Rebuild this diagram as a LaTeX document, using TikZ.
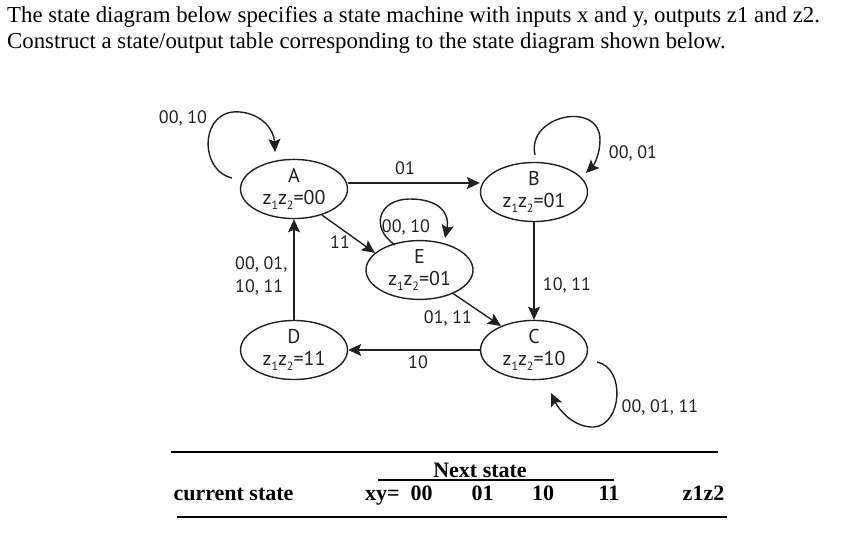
\documentclass[tikz,border=0pt]{standalone}
\usepackage{fontspec}
\setmainfont{Liberation Serif}
\newfontfamily\diagfont{PT Sans}
\usetikzlibrary{arrows.meta,shapes.geometric}
\newcommand\zsb[1]{\raisebox{-0.28em}{\fontsize{12}{12}\selectfont #1}}
\definecolor{ink}{HTML}{231F20}
\tikzset{
  state/.style={ellipse, draw=ink, line width=1.4pt, minimum width=107pt, minimum height=58pt,
    inner sep=0pt, align=center, font=\diagfont\fontsize{20}{22}\selectfont, text=ink},
  arr/.style={draw=ink, line width=1.4pt, -{Stealth[length=13pt,width=12pt,inset=2.5pt]}},
  lbl/.style={font=\diagfont\fontsize{18}{23}\selectfont, text=ink, inner sep=0pt},
  ttl/.style={font=\fontsize{22.8}{25}\selectfont, anchor=base west, inner sep=0pt},
  tbl/.style={font=\bfseries\fontsize{22}{25}\selectfont, anchor=base, inner sep=0pt},
}
\begin{document}
\begin{tikzpicture}[x=1pt,y=-1pt]
\useasboundingbox (0,0) rectangle (854,554);
% title
\node[ttl] (t1) at (7,23) {The state diagram below specifies a state machine with inputs x and y, outputs z1 and z2.};
\node[ttl] (t2) at (7,48) {Construct a state/output table corresponding to the state diagram shown below.};
% states
\node[state] (A) at (294,189) {A\\z\zsb{1}z\zsb{2}=00};
\node[state] (B) at (534,192) {B\\z\zsb{1}z\zsb{2}=01};
\node[state] (E) at (419.5,270) {E\\z\zsb{1}z\zsb{2}=01};
\node[state] (C) at (534,350) {C\\z\zsb{1}z\zsb{2}=10};
\node[state] (D) at (294,350) {D\\z\zsb{1}z\zsb{2}=11};
% transitions
\draw[arr] ([yshift=6pt]A.east) -- ([yshift=6pt]A.east -| B.west);
\draw[arr] (B.south) -- (C.north);
\draw[arr] (C.west) -- (D.east);
\draw[arr] (D.north) -- (A.south);
\draw[arr] (A.-43) -- (E.159);
\draw[arr] (E.-35) -- (C.144);
% self loops
\coordinate (as) at (232,178); \coordinate (at) at (275,152);
\draw[arr] (as) .. controls (198,170) and (200,108) .. (240,112) .. controls (262,114) and (274,130) .. (at);
\coordinate (bs) at (535,155); \coordinate (bt) at (586,173);
\draw[arr] (bs) .. controls (526,115) and (600,100) .. (600,140) .. controls (600,154) and (594,165) .. (bt);
\coordinate (cs) at (597,362); \coordinate (ct) at (551,393);
\draw[arr] (cs) .. controls (626,368) and (622,425) .. (594,427) .. controls (576,428) and (560,412) .. (ct);
\coordinate (es) at (395,245); \coordinate (et) at (445,238);
\draw[arr] (es) .. controls (370,228) and (378,199) .. (410,199) .. controls (440,199) and (450,214) .. (et);
% labels
\node[lbl] (lab) at (405,168) {01};
\node[lbl] (laa) at (183,118) {00, 10};
\node[lbl] (lae) at (340,242) {11};
\node[lbl] (lee) at (406,227) {00, 10};
\node[lbl] (lec) at (448,318) {01, 11};
\node[lbl] (lbb) at (633,153) {00, 01};
\node[lbl] (lbc) at (567,285) {10, 11};
\node[lbl] (lcd) at (418,362) {10};
\node[lbl] (lcc) at (660,407) {00, 01, 11};
\node[lbl, align=left, anchor=west] (lda) at (235,275.5) {00, 01,\\10, 11};
% table
\coordinate (r1a) at (171,452); \coordinate (r1b) at (718,452);
\coordinate (r2a) at (378,480); \coordinate (r2b) at (614,480);
\coordinate (r3a) at (177,517); \coordinate (r3b) at (727,517);
\draw[line width=1.8pt] (r1a) -- (r1b);
\draw[line width=1.5pt] (r2a) -- (r2b);
\draw[line width=1.8pt] (r3a) -- (r3b);
\node[tbl] (ns) at (480,477) {Next state};
\node[tbl] (cst) at (233.5,500) {current state};
\node[tbl] (xy) at (382.5,500) {xy=};
\node[tbl] (h00) at (421.5,500) {00};
\node[tbl] (h01) at (482.5,500) {01};
\node[tbl] (h10) at (543,500) {10};
\node[tbl] (h11) at (609,500) {11};
\node[tbl] (zz) at (703.5,500) {z1z2};
\end{tikzpicture}
\end{document}
